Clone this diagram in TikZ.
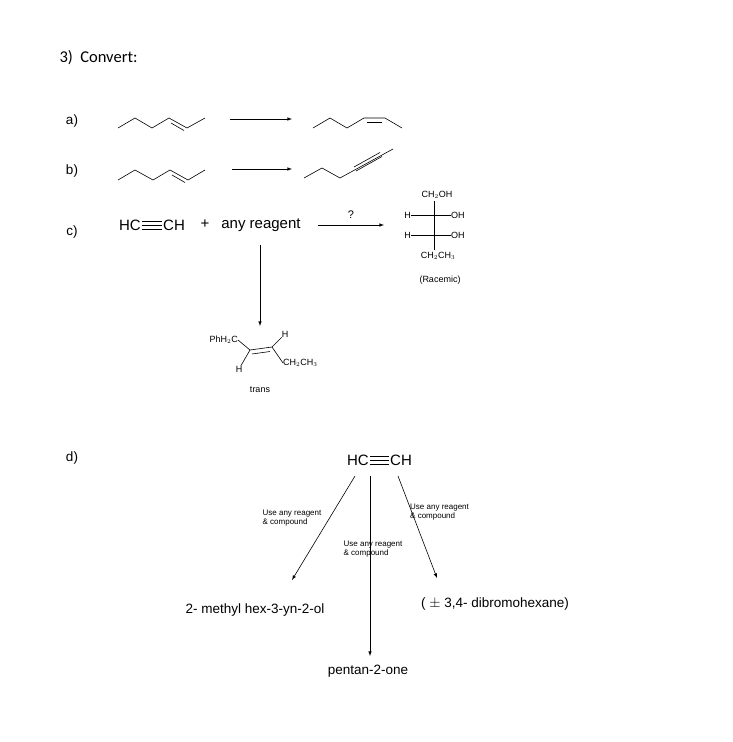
\documentclass[tikz,border=0pt]{standalone}
\usepackage{fontspec}
\setmainfont{Liberation Sans}
\newfontfamily\calfont{Carlito}
\begin{document}
\begin{tikzpicture}[x=1pt,y=-1pt,
 bond/.style={line width=0.6pt},
 arr/.style={-latex,line width=0.6pt},
 lab/.style={font=\fontsize{13.5}{15}\selectfont},
 big/.style={font=\fontsize{15}{17}\selectfont},
 sm/.style={font=\fontsize{8}{8.5}\selectfont,align=left,inner sep=0pt},
 fs/.style={font=\fontsize{9}{10}\selectfont,inner sep=0pt}]
\path[use as bounding box] (0,0) rectangle (732,742);
\node[anchor=west,font=\calfont\fontsize{16.5}{18}\selectfont] (t) at (56,58) {3)\ \ Convert:};
\node[lab] (la) at (72,121) {a)};
\node[lab] (lb) at (72,171) {b)};
\node[lab] (lc) at (72,232) {c)};
\node[lab] (ld) at (72,458) {d)};
% a
\draw[bond] (118,128)--(135,118)--(152,128)--(169,118)--(187,128)--(205,118);
\draw[bond] (171,123)--(184,130.5);
\coordinate (a1) at (230,119); \coordinate (a2) at (292,119);
\draw[arr] (a1)--(a2);
\draw[bond] (313,128)--(330,118)--(347,128)--(364,118)--(385,118)--(402,128);
\draw[bond] (367,122)--(382,122);
% b
\draw[bond] (118,180)--(135,170)--(153,180)--(170,170)--(188,180)--(205,170);
\draw[bond] (172,175)--(185,182.5);
\coordinate (b1) at (232,169); \coordinate (b2) at (292,169);
\draw[arr] (b1)--(b2);
\draw[bond] (304,178)--(322,168)--(340,178)--(393,149);
\draw[bond] (354,167)--(380,152.5);
\draw[bond] (356,171)--(382,156.5);
% c
\node[big,anchor=east,inner sep=1pt] (hc) at (142,225) {HC};
\node[big,anchor=west,inner sep=1pt] (ch) at (162,225) {CH};
\draw[bond] ([yshift=4]hc.east)--([yshift=4]ch.west);
\draw[bond] (hc.east)--(ch.west);
\draw[bond] ([yshift=-4]hc.east)--([yshift=-4]ch.west);
\node[big] (plus) at (205,224) {+};
\node[big] (ar) at (261,225) {any reagent};
\coordinate (c1) at (318,225); \coordinate (c2) at (384,225);
\draw[arr] (c1)--(c2) node[midway,above=3pt,font=\fontsize{11}{12}\selectfont] (q) {?};
\node[fs] (f1) at (437,195) {CH$_2$OH};
\node[fs] (f2) at (438,256) {CH$_2$CH$_3$};
\node[fs,anchor=east] (h1) at (411,215) {H};
\node[fs,anchor=east] (h2) at (411,235) {H};
\node[fs,anchor=west] (o1) at (451,215) {OH};
\node[fs,anchor=west] (o2) at (451,235) {OH};
\draw[bond] (434,201)--(434,250);
\draw[bond] (h1.east)--(o1.west);
\draw[bond] (h2.east)--(o2.west);
\node[fs] (rac) at (440,280) {(Racemic)};
\coordinate (d1) at (260,245); \coordinate (d2) at (260,326);
\draw[arr] (d1)--(d2);
\node[fs,anchor=east] (ph) at (238,340) {PhH$_2$C};
\coordinate (e1) at (250,350); \coordinate (e2) at (272,347);
\draw[bond] (ph.east)--(e1)--(e2);
\draw[bond] (252,354)--(270,351.5);
\node[fs] (ht) at (285,334) {H};
\node[fs] (hb) at (239,369) {H};
\node[fs,anchor=west] (et) at (283,363) {CH$_2$CH$_3$};
\draw[bond] (e2)--(ht);
\draw[bond] (e2)--(et.west);
\draw[bond] (e1)--(hb);
\node[fs] (tr) at (260,390) {trans};
% d
\node[big,anchor=east,inner sep=1pt] (dh) at (370,460) {HC};
\node[big,anchor=west,inner sep=1pt] (dc) at (389,460) {CH};
\draw[bond] ([yshift=4]dh.east)--([yshift=4]dc.west);
\draw[bond] (dh.east)--(dc.west);
\draw[bond] ([yshift=-4]dh.east)--([yshift=-4]dc.west);
\node[lab] (p1) at (255,610) {2- methyl hex-3-yn-2-ol};
\node[lab] (p2) at (368,671) {pentan-2-one};
\node[lab] (p3) at (495,604) {( $\pm$ 3,4- dibromohexane)};
\draw[arr] (355,476)--(292,580);
\draw[arr] (370,476)--(370,656);
\draw[arr] (398,476)--(437,578);
\node[sm] (u1) at (292,518) {Use any reagent\\\& compound};
\node[sm] (u2) at (373,549) {Use any reagent\\\& compound};
\node[sm,anchor=west] (u3) at (410,512) {Use any reagent\\\& compound};
\end{tikzpicture}
\end{document}
